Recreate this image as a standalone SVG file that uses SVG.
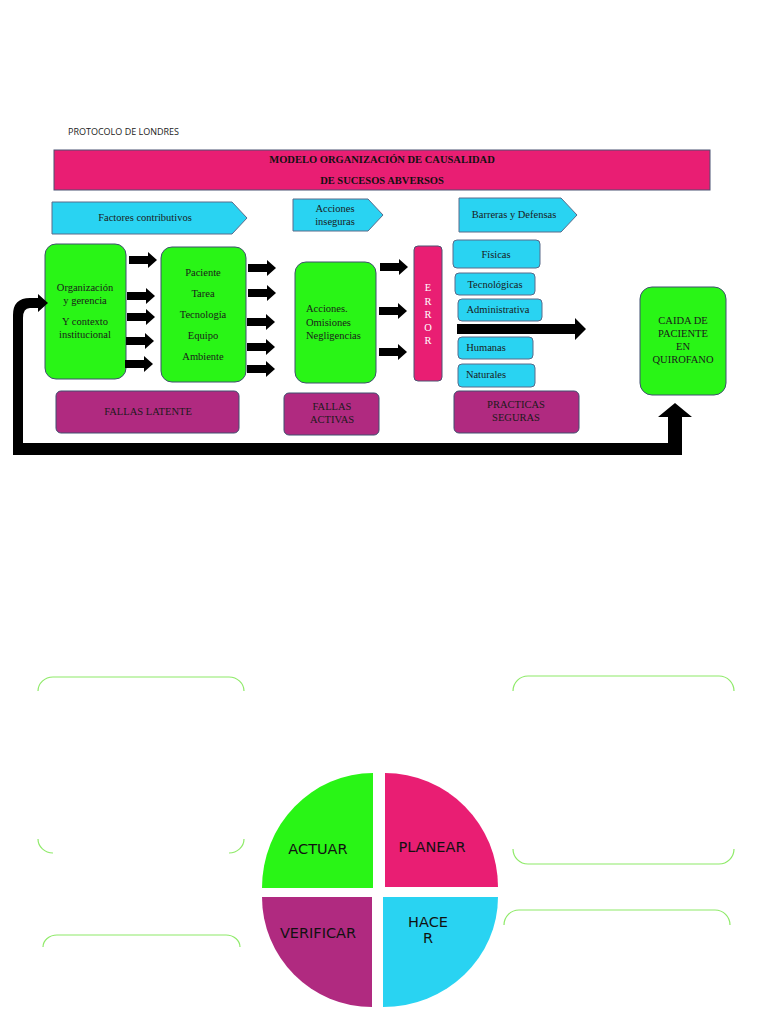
<svg xmlns="http://www.w3.org/2000/svg" width="768" height="1024" viewBox="0 0 768 1024">
<style>
.pink{fill:#E91E73;stroke:#4A5273;stroke-width:1}
.green{fill:#29F516;stroke:#3F4F6F;stroke-width:1}
.blue{fill:#29D3F2;stroke:#5A6A8A;stroke-width:1}
.purple{fill:#B02A80;stroke:#3F4F6F;stroke-width:1}
.s{font-family:"Liberation Serif","Times New Roman",serif;font-size:10.5px;fill:#1a1a1a;text-anchor:middle}
.sl{font-family:"Liberation Serif","Times New Roman",serif;font-size:10.5px;fill:#1a1a1a;text-anchor:start}
.sb{font-family:"Liberation Serif","Times New Roman",serif;font-size:10.5px;font-weight:bold;fill:#111;text-anchor:middle}
.err{font-family:"Liberation Serif",serif;font-size:10.5px;fill:#ffffff;text-anchor:middle}
.p{font-family:"DejaVu Sans",sans-serif;font-size:14.5px;fill:#111;text-anchor:middle}
.outl{fill:none;stroke:#8EEA68;stroke-width:1.2}
.arr{fill:#000}
</style>
<defs>
<path id="ba" d="M0,-4 H19 V-8 L28,0 L19,8 V4 H0 Z"/>
</defs>

<text x="68" y="135" font-family="Open Sans, sans-serif" font-size="9" fill="#222">PROTOCOLO DE LONDRES</text>

<g id="banner">
<rect class="pink" x="54" y="150" width="656" height="40"/>
<text class="sb" x="382" y="163">MODELO ORGANIZACIÓN DE CAUSALIDAD</text>
<text class="sb" x="382" y="184">DE SUCESOS ABVERSOS</text>
</g>

<g id="factores">
<path class="blue" d="M52,202 H232 L247,218 L232,234 H52 Z"/>
<text class="s" x="145" y="221">Factores contributivos</text>
</g>
<g id="acciones-inseguras">
<path class="blue" d="M293,199 H368 L383,215 L368,231 H293 Z"/>
<text class="s" x="335" y="212">Acciones</text>
<text class="s" x="335" y="225">inseguras</text>
</g>
<g id="barreras">
<path class="blue" d="M459,198 H561 L577,215 L561,232 H459 Z"/>
<text class="s" x="514" y="218">Barreras y Defensas</text>
</g>

<g id="organizacion">
<rect class="green" x="45" y="244" width="81" height="135" rx="11"/>
<text class="s" x="85" y="291">Organización</text>
<text class="s" x="85" y="304">y gerencia</text>
<text class="s" x="85" y="325">Y contexto</text>
<text class="s" x="85" y="338">institucional</text>
</g>
<g id="factores-lista">
<rect class="green" x="161" y="247" width="85" height="135" rx="11"/>
<text class="s" x="203" y="276">Paciente</text>
<text class="s" x="203" y="297">Tarea</text>
<text class="s" x="203" y="318">Tecnología</text>
<text class="s" x="203" y="339">Equipo</text>
<text class="s" x="203" y="360">Ambiente</text>
</g>
<g id="acciones">
<rect class="green" x="295" y="262" width="81" height="121" rx="11"/>
<text class="sl" x="306" y="312">Acciones.</text>
<text class="sl" x="306" y="326">Omisiones</text>
<text class="sl" x="306" y="339">Negligencias</text>
</g>
<g id="error">
<rect class="pink" x="414" y="246" width="28" height="135" rx="4"/>
<text class="err" x="428" y="291">E</text>
<text class="err" x="428" y="305">R</text>
<text class="err" x="428" y="318">R</text>
<text class="err" x="428" y="331">O</text>
<text class="err" x="428" y="344">R</text>
</g>

<g id="fisicas"><rect class="blue" x="453" y="240" width="87" height="28" rx="4"/><text class="s" x="496" y="258">Físicas</text></g>
<g id="tecnologicas"><rect class="blue" x="455" y="273" width="80" height="22" rx="4"/><text class="s" x="495" y="288">Tecnológicas</text></g>
<g id="administrativa"><rect class="blue" x="458" y="299" width="84" height="22" rx="4"/><text class="s" x="498" y="313">Administrativa</text></g>
<g id="humanas"><rect class="blue" x="458" y="337" width="75" height="22" rx="4"/><text class="s" x="486" y="351">Humanas</text></g>
<g id="naturales"><rect class="blue" x="458" y="364" width="77" height="23" rx="4"/><text class="s" x="486" y="378">Naturales</text></g>

<g id="fallas-latente">
<rect class="purple" x="56" y="391" width="183" height="42" rx="5"/>
<text class="s" x="148" y="415">FALLAS LATENTE</text>
</g>
<g id="fallas-activas">
<rect class="purple" x="284" y="393" width="95" height="42" rx="5"/>
<text class="s" x="332" y="410">FALLAS</text>
<text class="s" x="332" y="423">ACTIVAS</text>
</g>
<g id="practicas-seguras">
<rect class="purple" x="454" y="391" width="125" height="42" rx="5"/>
<text class="s" x="516" y="408">PRACTICAS</text>
<text class="s" x="516" y="421">SEGURAS</text>
</g>
<g id="caida">
<rect class="green" x="640" y="287" width="86" height="108" rx="12"/>
<text class="s" x="683" y="324">CAIDA DE</text>
<text class="s" x="683" y="337">PACIENTE</text>
<text class="s" x="683" y="350">EN</text>
<text class="s" x="683" y="363">QUIROFANO</text>
</g>

<g id="connectors">
<use href="#ba" class="arr" x="129" y="260"/>
<use href="#ba" class="arr" x="127" y="296"/>
<use href="#ba" class="arr" x="127" y="317"/>
<use href="#ba" class="arr" x="126" y="341"/>
<use href="#ba" class="arr" x="125" y="364"/>
<use href="#ba" class="arr" x="248" y="268"/>
<use href="#ba" class="arr" x="248" y="293"/>
<use href="#ba" class="arr" x="247" y="322"/>
<use href="#ba" class="arr" x="247" y="347"/>
<use href="#ba" class="arr" x="247" y="369"/>
<use href="#ba" class="arr" x="380" y="267"/>
<use href="#ba" class="arr" x="379" y="311"/>
<use href="#ba" class="arr" x="379" y="352"/>
<path class="arr" d="M457,324 H575 V318 L586,329 L575,340 V334 H457 Z"/>
<path class="arr" d="M13,455 V315 Q13,298 30,298 H38 V294 L48,303 L38,312 V308 H30 Q23,308 23,318 V443 H668 V417 H658 L675,403 L692,417 H682 V455 Z"/>
</g>

<g id="outline-tl">
<path class="outl" d="M38,691 A15,14 0 0 1 53,677 H229 A15,14 0 0 1 244,691"/>
<path class="outl" d="M38,839 A15,14 0 0 0 53,853"/>
<path class="outl" d="M229,853 A15,14 0 0 0 244,839"/>
</g>
<g id="outline-bl">
<path class="outl" d="M43,947 A14,12 0 0 1 57,935 H226 A14,12 0 0 1 240,947"/>
</g>
<g id="outline-tr">
<path class="outl" d="M513,691 A15,15 0 0 1 528,676 H719 A15,15 0 0 1 734,691"/>
<path class="outl" d="M513,849 A15,15 0 0 0 528,864 H719 A15,15 0 0 0 734,849"/>
</g>
<g id="outline-br">
<path class="outl" d="M504,925 A15,15 0 0 1 519,910 H715 A15,15 0 0 1 730,925"/>
</g>

<g id="actuar">
<path d="M373,888 H262 A111,115 0 0 1 373,773 Z" fill="#29F516"/>
<text class="p" x="318" y="854">ACTUAR</text>
</g>
<g id="planear">
<path d="M385,887 V773 A113,114 0 0 1 498,887 Z" fill="#E91E73"/>
<text class="p" x="432" y="852">PLANEAR</text>
</g>
<g id="verificar">
<path d="M372,897 V1007 A110,110 0 0 1 262,897 Z" fill="#B02A80"/>
<text class="p" x="318" y="938">VERIFICAR</text>
</g>
<g id="hacer">
<path d="M383,897 H498 A115,110 0 0 1 383,1007 Z" fill="#29D3F2"/>
<text class="p" x="428" y="927">HACE</text>
<text class="p" x="428" y="943">R</text>
</g>
</svg>
